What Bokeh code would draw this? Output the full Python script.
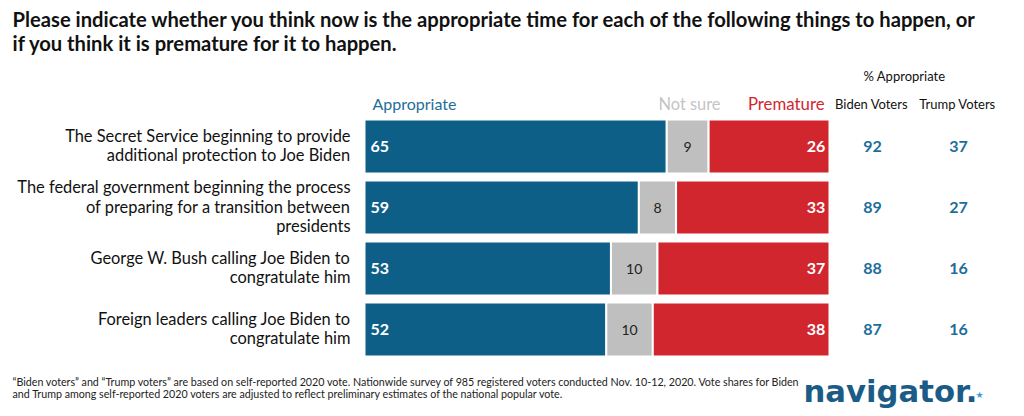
from bokeh.plotting import figure
from bokeh.models import Range1d
from bokeh.core.properties import value
from bokeh.embed import file_html
from bokeh.resources import INLINE

# --- data -------------------------------------------------------------
items = [
    ["The Secret Service beginning to provide", "additional protection to Joe Biden"],
    ["The federal government beginning the process", "of preparing for a transition between", "presidents"],
    ["George W. Bush calling Joe Biden to", "congratulate him"],
    ["Foreign leaders calling Joe Biden to", "congratulate him"],
]
appropriate = [65, 59, 53, 52]
not_sure = [9, 8, 10, 10]
premature = [26, 33, 37, 38]
biden_voters = [92, 89, 88, 87]
trump_voters = [37, 27, 16, 16]

series_names = ["Appropriate", "Not sure", "Premature"]
subgroup_names = ["Biden Voters", "Trump Voters"]
subgroup_title = "% Appropriate"

title_lines = [
    "Please indicate whether you think now is the appropriate time for each of the following things to happen, or",
    "if you think it is premature for it to happen.",
]
note_lines = [
    "\u201cBiden voters\u201d and \u201cTrump voters\u201d are based on self-reported 2020 vote. Nationwide survey of 985 registered voters conducted Nov. 10-12, 2020. Vote shares for Biden",
    "and Trump among self-reported 2020 voters are adjusted to reflect preliminary estimates of the national popular vote.",
]

# --- styling ------------------------------------------------------------
BLUE = "#0e5f88"
BLUE_TXT = "#1d6e9b"
GREY = "#bfbfbf"
GREY_TXT = "#c4c4c4"
RED = "#d2262f"
FONT = value("Lato")

W, H = 1024, 416
# horizontal scale: percent units, 0..100 spans the bar block
X0_PX, PX_PER = 364.0, 4.65
# vertical scale: one unit per row
Y0_PX, ROW_PX = 146.0, 61.0


def xd(px):
    return (px - X0_PX) / PX_PER


def yd(py):
    return (py - Y0_PX) / ROW_PX


p = figure(width=W, height=H, output_backend="svg", toolbar_location=None,
           x_range=Range1d(xd(0), xd(W)), y_range=Range1d(yd(H), yd(0)),
           min_border=0)
p.axis.visible = False
p.grid.visible = False
p.outline_line_color = None
p.background_fill_color = "white"
p.border_fill_color = "white"

rows = list(range(len(items)))
left_grey = appropriate
left_red = [a + n for a, n in zip(appropriate, not_sure)]
ends = [a + n + r for a, n, r in zip(appropriate, not_sure, premature)]

bar_h = 54 / ROW_PX
p.hbar(y=rows, left=0, right=appropriate, height=bar_h,
       fill_color=BLUE, line_color="white", line_width=2)
p.hbar(y=rows, left=left_grey, right=left_red, height=bar_h,
       fill_color=GREY, line_color="white", line_width=2)
p.hbar(y=rows, left=left_red, right=ends, height=bar_h,
       fill_color=RED, line_color="white", line_width=2)

# values inside the bars
p.text(x=[1.3] * len(rows), y=rows, text=[str(v) for v in appropriate],
       text_font=FONT, text_font_size="16px", text_color="white",
       text_align="left", text_baseline="middle", text_font_style="bold")
p.text(x=[a + n / 2 for a, n in zip(appropriate, not_sure)], y=rows,
       text=[str(v) for v in not_sure],
       text_font=FONT, text_font_size="14px", text_color="#222222",
       text_align="center", text_baseline="middle")
p.text(x=[e - 0.9 for e in ends], y=rows, text=[str(v) for v in premature],
       text_font=FONT, text_font_size="16px", text_color="white",
       text_align="right", text_baseline="middle", text_font_style="bold")

# subgroup columns
p.text(x=[xd(872)] * len(rows), y=rows, text=[str(v) for v in biden_voters],
       text_font=FONT, text_font_size="16px", text_color=BLUE_TXT,
       text_align="center", text_baseline="middle", text_font_style="bold")
p.text(x=[xd(958)] * len(rows), y=rows, text=[str(v) for v in trump_voters],
       text_font=FONT, text_font_size="16px", text_color=BLUE_TXT,
       text_align="center", text_baseline="middle", text_font_style="bold")

# column headers
hy = yd(103)
p.text(x=[xd(372)], y=[hy], text=[series_names[0]], text_font=FONT,
       text_font_size="16px", text_color=BLUE_TXT, text_align="left",
       text_baseline="middle")
p.text(x=[xd(689)], y=[hy], text=[series_names[1]], text_font=FONT,
       text_font_size="16.4px", text_color=GREY_TXT, text_align="center",
       text_baseline="middle")
p.text(x=[xd(824)], y=[hy], text=[series_names[2]], text_font=FONT,
       text_font_size="16.8px", text_color=RED, text_align="right",
       text_baseline="middle")
p.text(x=[xd(871), xd(957)], y=[hy, hy], text=subgroup_names, text_font=FONT,
       text_font_size="13px", text_color="#111111", text_align="center",
       text_baseline="middle")
p.text(x=[xd(904)], y=[yd(75)], text=[subgroup_title], text_font=FONT,
       text_font_size="13px", text_color="#111111", text_align="center",
       text_baseline="middle")

# row labels, right-aligned beside the bars
line_step = 19.5 / ROW_PX
lx, ly, lt = [], [], []
for i, lines in enumerate(items):
    n = len(lines)
    for j, s in enumerate(lines):
        lx.append(xd(350))
        ly.append(i + (j - (n - 1) / 2) * line_step - 1.5 / ROW_PX)
        lt.append(s)
p.text(x=lx, y=ly, text=lt, text_font=FONT, text_font_size="16.4px",
       text_color="#111111", text_align="right", text_baseline="middle")

# title
p.text(x=[xd(12)] * 2, y=[yd(18), yd(42)], text=title_lines, text_font=FONT,
       text_font_size="20.2px", text_font_style="bold", text_color="#111111",
       text_align="left", text_baseline="middle")

# footnote
p.text(x=[xd(12)] * 2, y=[yd(381), yd(393)], text=note_lines, text_font=FONT,
       text_font_size="10.7px", text_color="#222222", text_align="left",
       text_baseline="middle")

# wordmark
p.text(x=[xd(803)], y=[yd(391)], text=["navigator."], text_font=value("DejaVu Sans"),
       text_font_size="30.7px", text_font_style="bold", text_color="#1b5c87",
       text_align="left", text_baseline="alphabetic")
p.text(x=[xd(979)], y=[yd(394)], text=["\u2605"], text_font=value("DejaVu Sans"),
       text_font_size="9px", text_color="#3d9bd3", text_align="center",
       text_baseline="middle")

open("out.html", "w").write(file_html(p, INLINE))
